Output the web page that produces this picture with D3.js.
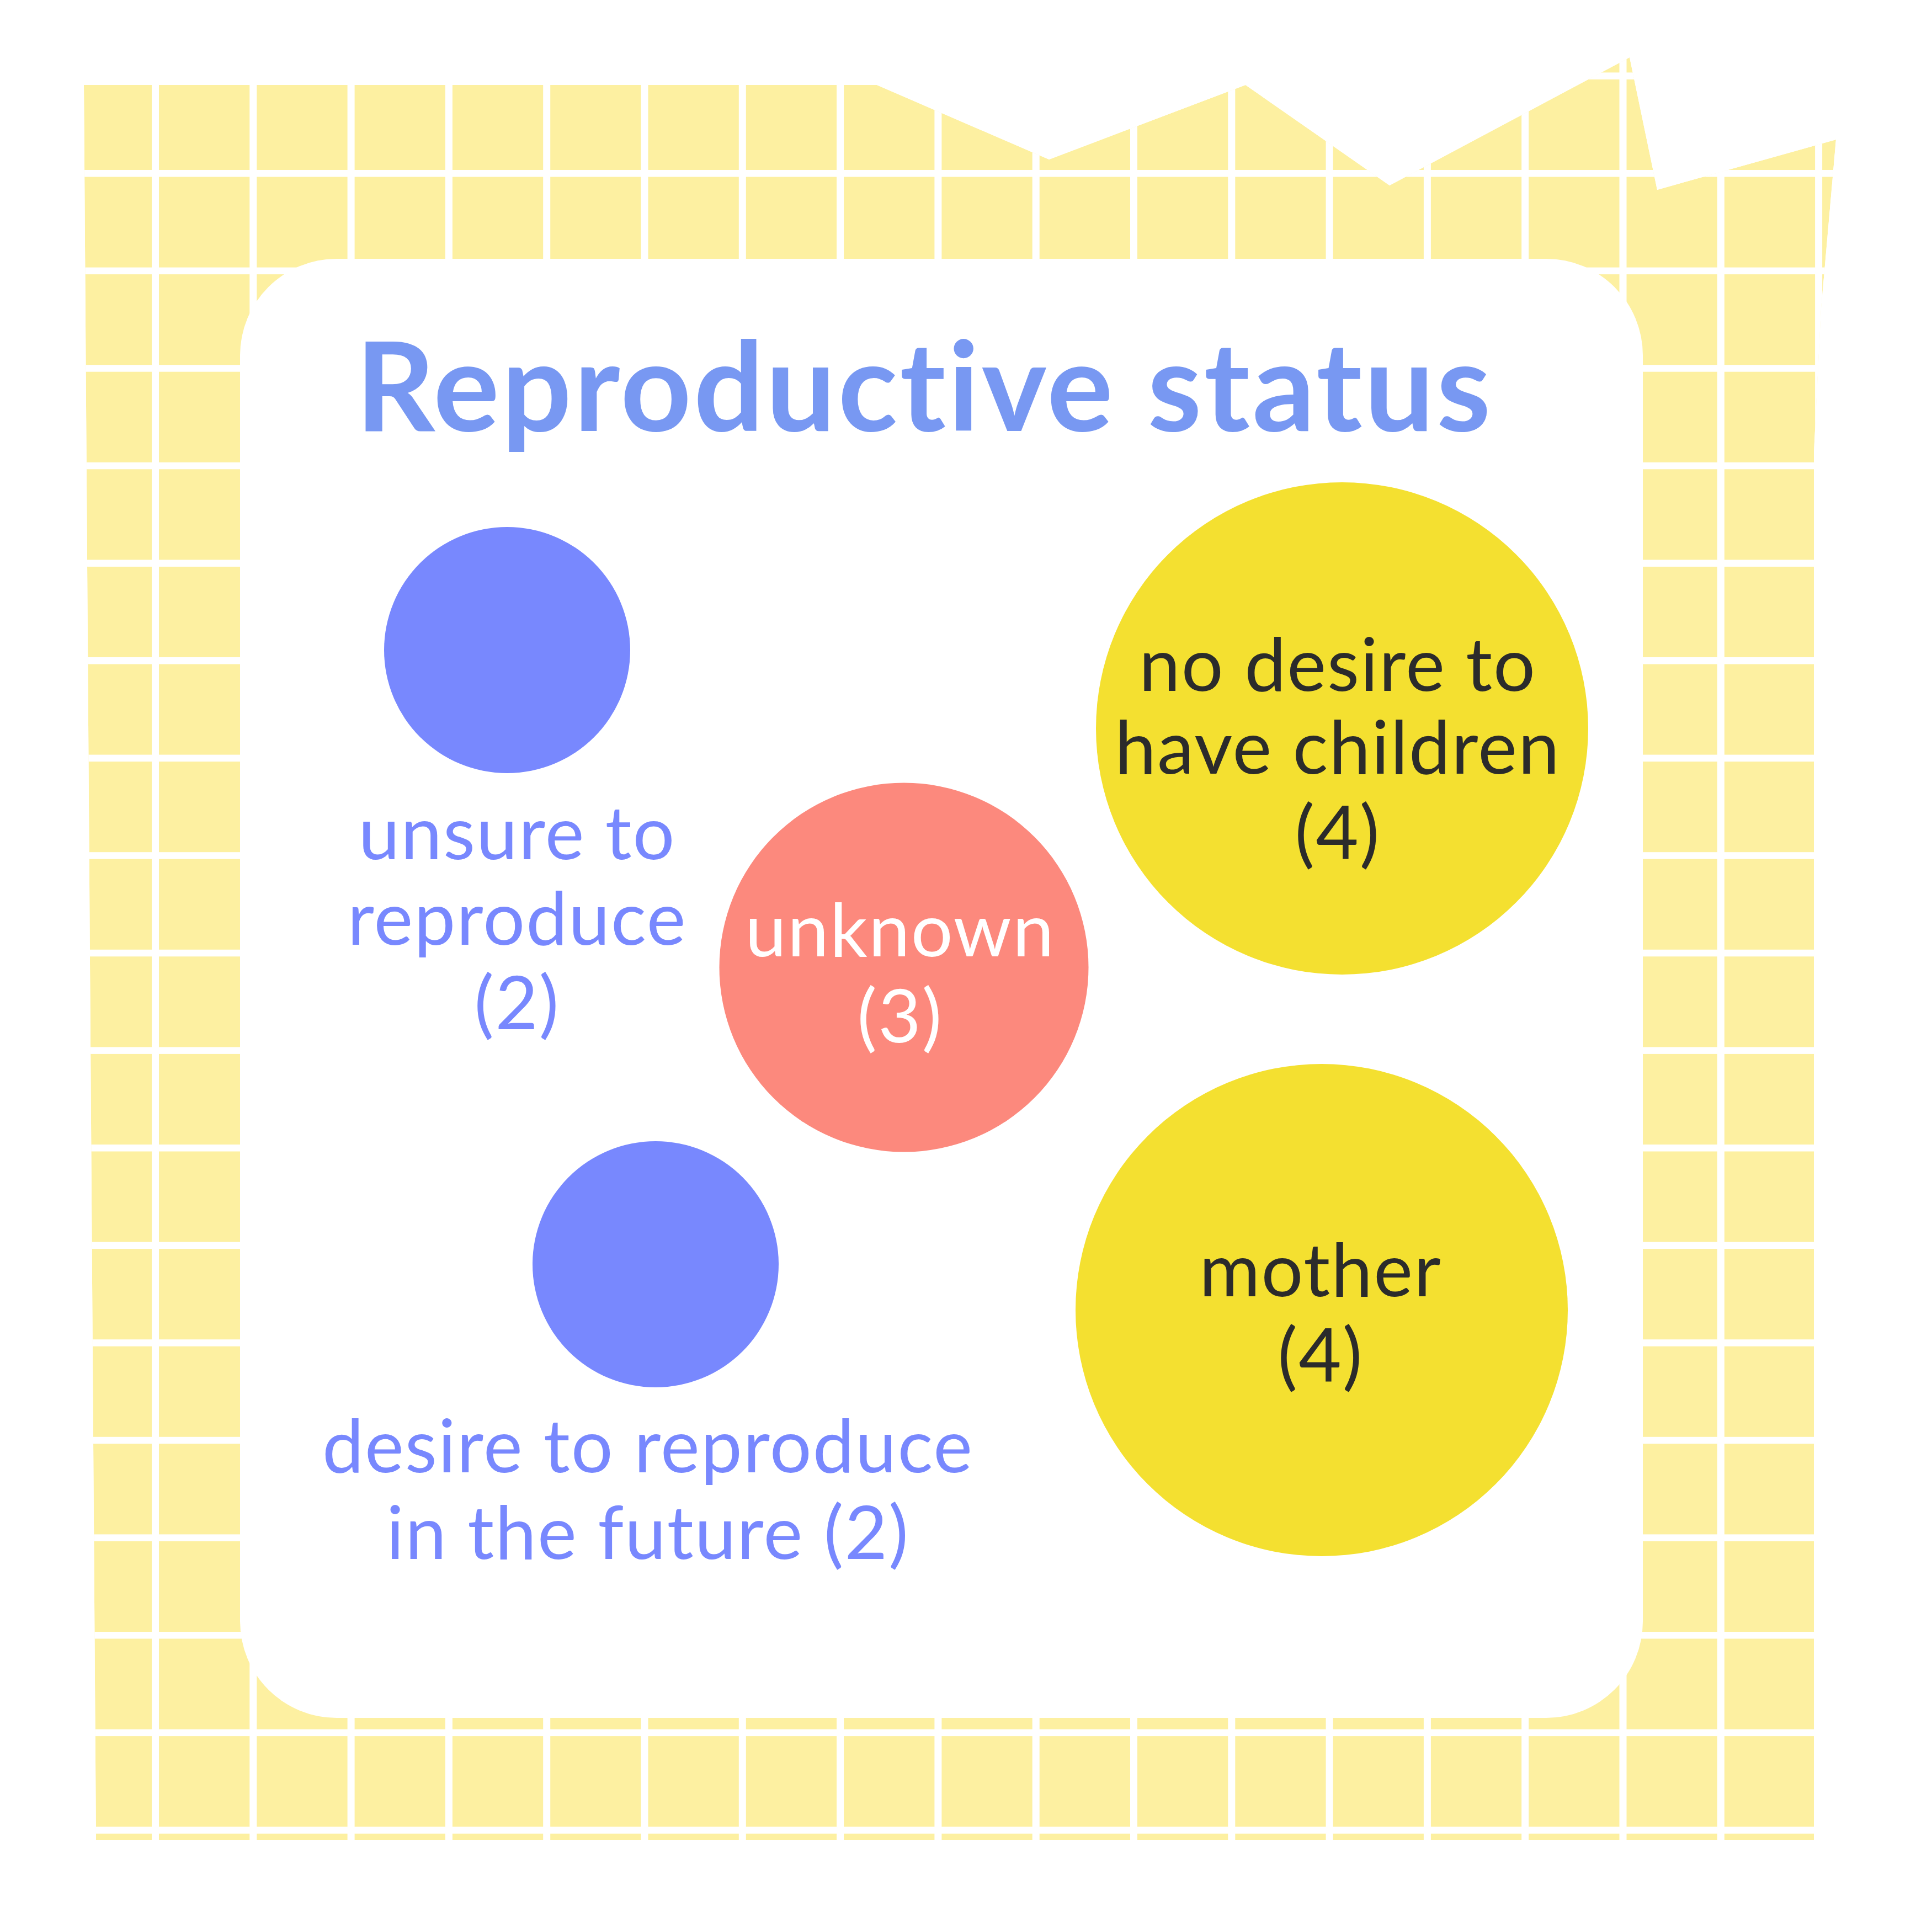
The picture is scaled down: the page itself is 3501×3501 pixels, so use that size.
<!DOCTYPE html>
<html><head><meta charset="utf-8">
<script src="https://cdn.jsdelivr.net/npm/d3@7"></script>
<style>html,body{margin:0;padding:0;background:#fff}</style>
</head><body>
<svg id="chart" width="3501" height="3501" xmlns="http://www.w3.org/2000/svg"></svg>
<script>
// ---------- data ----------
const title = "Reproductive status";
const categories = ["unsure to reproduce", "unknown", "no desire to have children", "mother", "desire to reproduce in the future"];
const counts = [2, 3, 4, 4, 2];
const labelLines = [
  ["unsure to", "reproduce", "(2)"],
  ["unknown", "(3)"],
  ["no desire to", "have children", "(4)"],
  ["mother", "(4)"],
  ["desire to reproduce", "in the future (2)"]
];

// ---------- layout (pixels) ----------
const centersX = [919, 1638, 2432, 2395, 1188];
const centersY = [1178, 1753, 1320, 2374, 2291];
const labelX = [937, 1631, 2424, 2393, 1174];
const labelBaselines = [[1557, 1712, 1865], [1733, 1889], [1252, 1402, 1556], [2349, 2503], [2668, 2825]];

// ---------- styles ----------
const BLUE = "#7888FE", SALMON = "#FC897D", YELLOW = "#F4E030", DARK = "#2B2B2B";
const fillColor = [BLUE, SALMON, YELLOW, YELLOW, BLUE];
const textColor = [BLUE, "#FFFFFF", DARK, DARK, BLUE];
const GRIDYELLOW = "#FDF0A1";

const svg = d3.select("#chart");

// ---------- background grid ----------
const outline = [[152,154],[1589,154],[1901,289],[2257,154],[2518,336],[2953,104],[3003,344],[3327,253],[3300,560],[3287,820],[3287,3334],[174,3334]];
const defs = svg.append("defs");
defs.append("clipPath").attr("id", "gridclip")
  .append("path").attr("d", d3.line()(outline) + "Z");

const grid = svg.append("g").attr("clip-path", "url(#gridclip)");
grid.append("path").attr("d", d3.line()(outline) + "Z").attr("fill", GRIDYELLOW);
const colPitch = 177.3, rowPitch = 176.6, gapW = 13, gapH = 12.5;
grid.selectAll("rect.v").data(d3.range(-2, 20)).join("rect").attr("class", "v")
  .attr("x", k => 275 + colPitch * k).attr("y", 0).attr("width", gapW).attr("height", 3501)
  .attr("fill", "#fff");
grid.selectAll("rect.h").data(d3.range(-2, 19)).join("rect").attr("class", "h")
  .attr("x", 0).attr("y", k => 308 + rowPitch * k).attr("width", 3501).attr("height", gapH)
  .attr("fill", "#fff");

// ---------- card ----------
svg.append("rect").attr("x", 435).attr("y", 469).attr("width", 2542).attr("height", 2644)
  .attr("rx", 175).attr("ry", 175).attr("fill", "#fff");

// ---------- title ----------
svg.append("text").attr("x", 1675).attr("y", 781).attr("text-anchor", "middle")
  .attr("font-family", "Lato, 'Open Sans', sans-serif").attr("font-weight", 700)
  .attr("font-size", 224).attr("letter-spacing", 4).attr("fill", "#7898F2").text(title);

// ---------- bubbles ----------
const r = d3.scaleLinear().domain([0, 4]).range([0, 446]);
const x = d3.scaleIdentity(), y = d3.scaleIdentity();
const data = categories.map((c, i) => ({c, v: counts[i], i}));

svg.append("g").selectAll("circle").data(data).join("circle")
  .attr("cx", d => x(centersX[d.i])).attr("cy", d => y(centersY[d.i]))
  .attr("r", d => r(d.v)).attr("fill", d => fillColor[d.i]);

const lbl = svg.append("g").selectAll("text").data(data).join("text")
  .attr("text-anchor", "middle").attr("font-family", "Lato, 'Open Sans', sans-serif")
  .attr("font-size", 134).attr("letter-spacing", 2).attr("fill", d => textColor[d.i]);
lbl.selectAll("tspan").data(d => labelLines[d.i].map((t, j) => ({t, x: labelX[d.i], y: labelBaselines[d.i][j]})))
  .join("tspan").attr("x", d => d.x).attr("y", d => d.y).text(d => d.t);
</script>
</body></html>
